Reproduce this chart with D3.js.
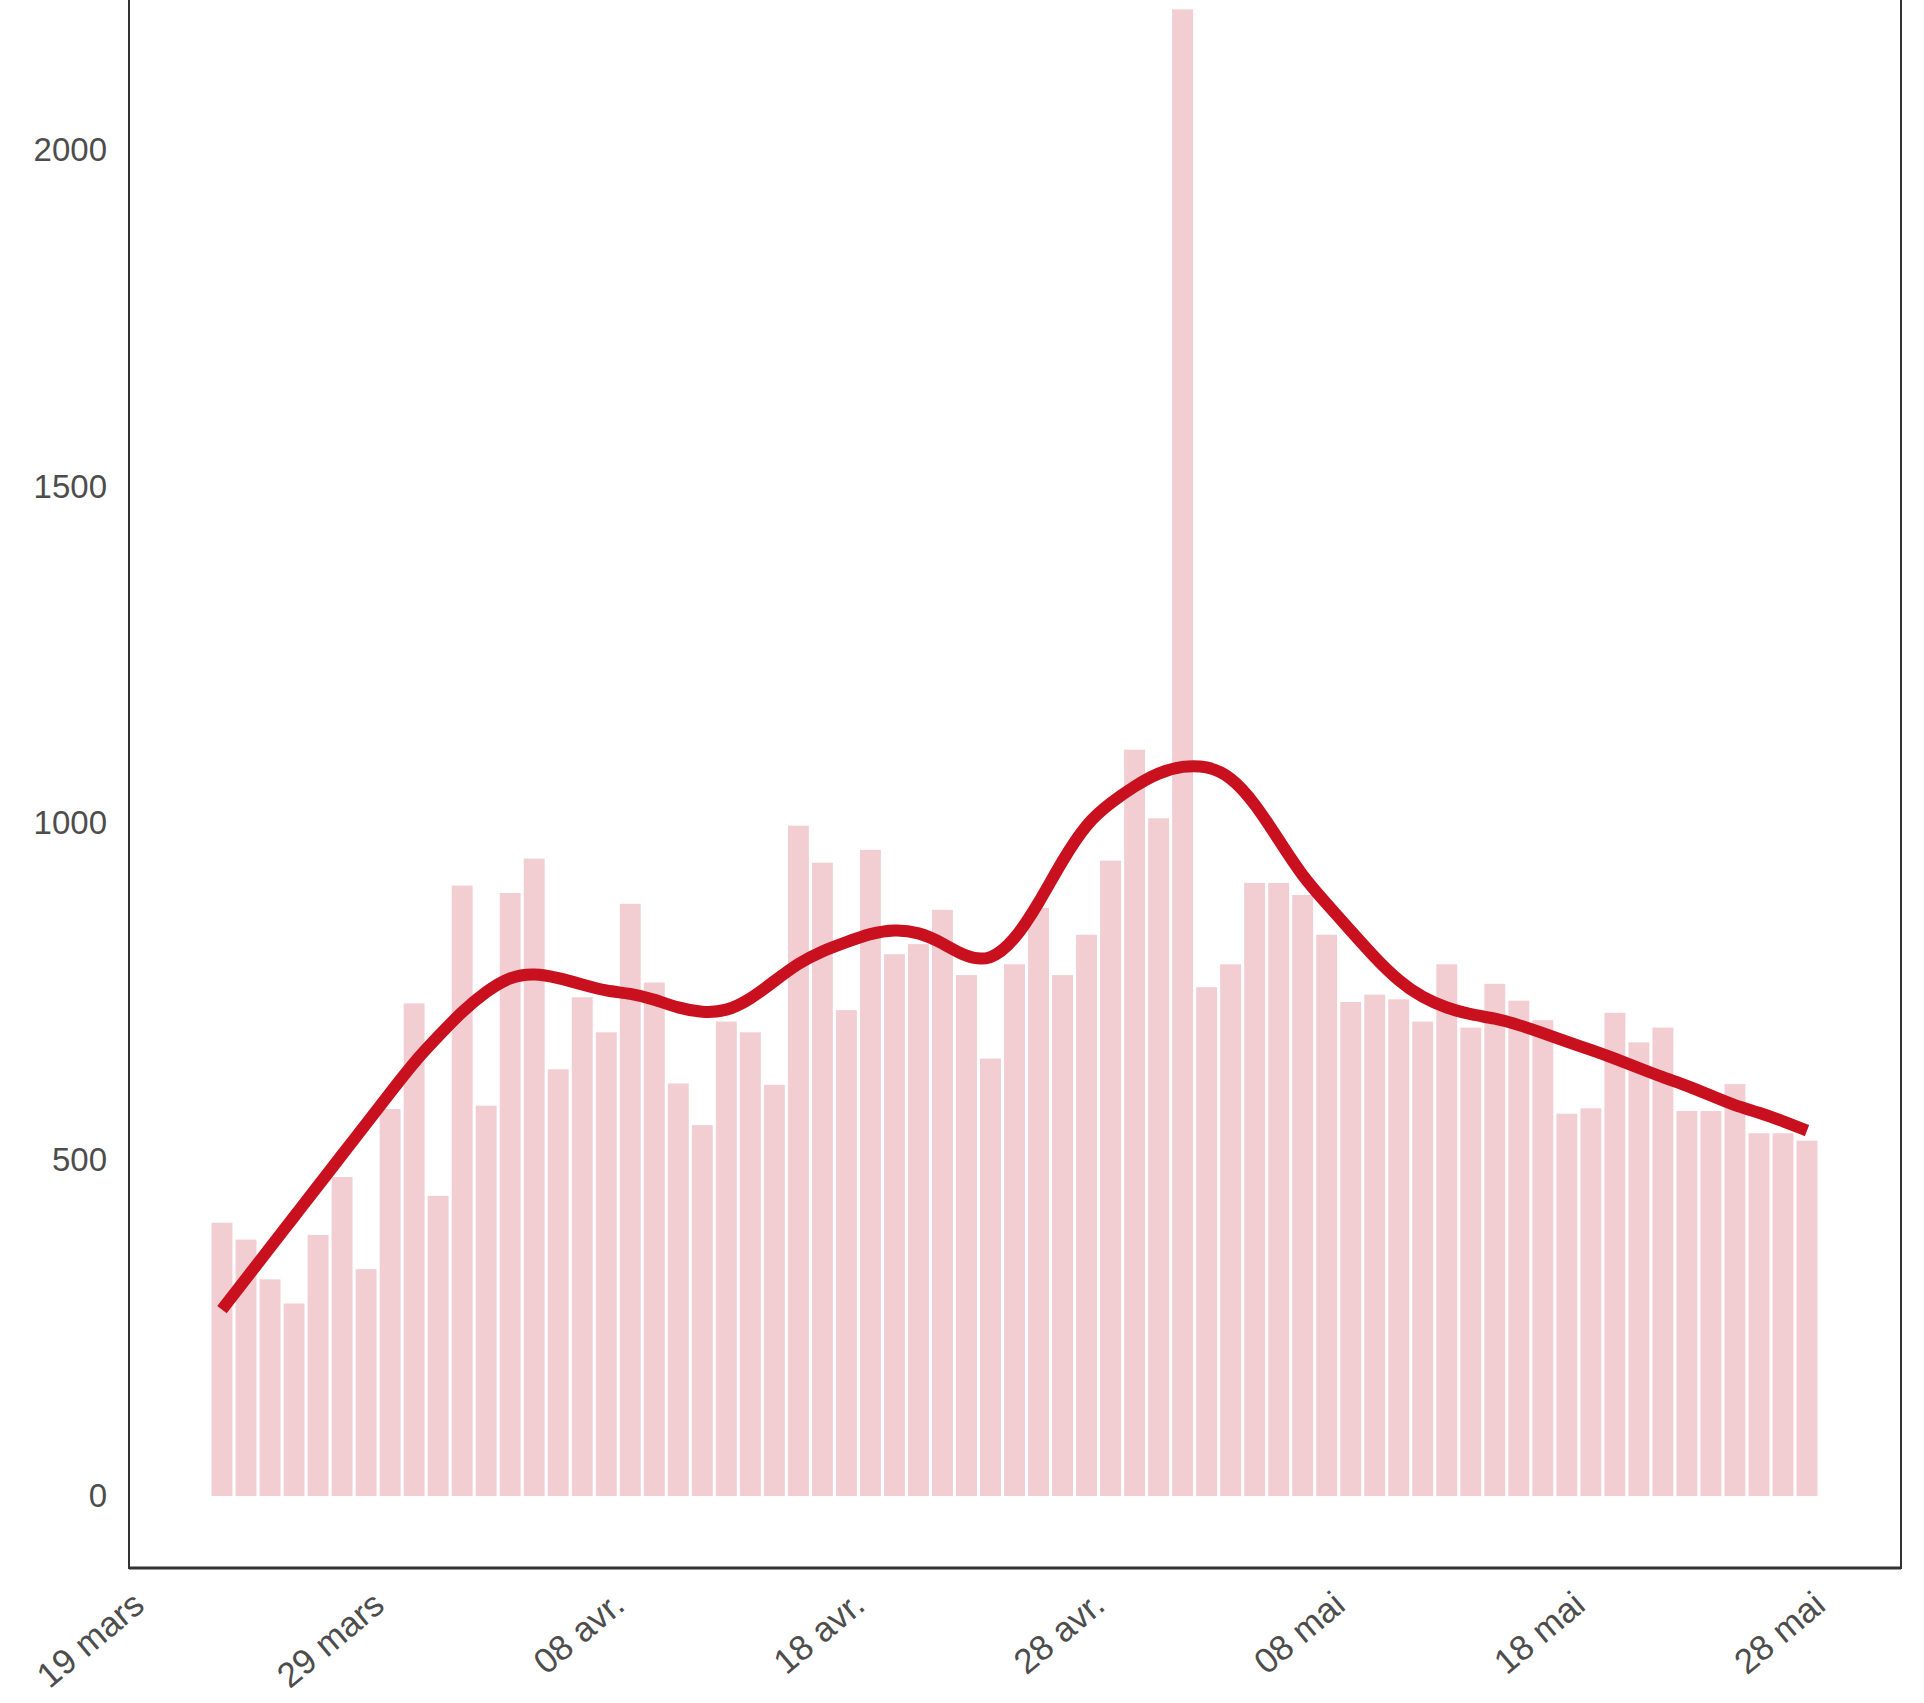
<!DOCTYPE html>
<html><head><meta charset="utf-8">
<script src="https://cdn.jsdelivr.net/npm/d3@7"></script>
<style>body{margin:0;background:#fff}svg{display:block}</style></head>
<body><svg id="c" width="1924" height="1703"></svg>
<script>
const startDate = "2020-03-22";
const values = [406,381,322,286,388,474,337,575,732,446,907,580,896,947,634,741,689,880,763,613,551,705,689,611,996,941,722,960,805,820,871,774,650,790,874,774,834,944,1109,1007,2209,756,790,911,911,893,834,734,745,738,705,790,696,761,736,707,568,576,718,674,696,572,572,612,539,539,528];
const trend = [277,323,369,415,461,507,553,599,645,683,720,750,772,777,770,760,750,747,738,725,718,720,738,765,792,810,823,836,842,838,822,800,795,825,880,945,1000,1030,1055,1075,1085,1085,1070,1030,975,920,880,840,800,765,740,725,715,710,700,688,675,663,650,636,622,610,595,580,570,557,543];
const tickLabels = ["19 mars","29 mars","08 avr.","18 avr.","28 avr.","08 mai","18 mai","28 mai"];
const tickDates = ["2020-03-19","2020-03-29","2020-04-08","2020-04-18","2020-04-28","2020-05-08","2020-05-18","2020-05-28"];
const yTicks = [0,500,1000,1500,2000];

const svg = d3.select("#c");
const parse = d3.utcParse("%Y-%m-%d");
const d0 = parse(startDate);
const dates = values.map((v,i)=>d3.utcDay.offset(d0,i));
const x = d3.scaleUtc().domain([dates[0], dates[dates.length-1]]).range([222,1807]);
const y = d3.scaleLinear().domain([0,2000]).range([1496,150]);
const step = x(dates[1]) - x(dates[0]);
const bw = step*0.87;

svg.append("path").attr("d",`M129,-5V1568H1901V-5`).attr("fill","none").attr("stroke","#333").attr("stroke-width",2);
svg.append("line").attr("x1",129).attr("x2",1901).attr("y1",1568).attr("y2",1568).attr("stroke","#333").attr("stroke-width",3);

svg.append("g").selectAll("rect").data(values).join("rect")
  .attr("x",(d,i)=>x(dates[i])-bw/2).attr("width",bw)
  .attr("y",d=>y(d)).attr("height",d=>y(0)-y(d)).attr("fill","#f2cdd2");

svg.append("path").datum(trend)
  .attr("d",d3.line().x((d,i)=>x(dates[i])).y(d=>y(d)).curve(d3.curveBasis))
  .attr("fill","none").attr("stroke","#c8101e").attr("stroke-width",12);

const ya = svg.append("g").attr("transform","translate(129,0)")
  .call(d3.axisLeft(y).tickValues(yTicks).tickFormat(d3.format("d")).tickSize(0).tickPadding(22));
ya.select(".domain").remove();
ya.selectAll("text").attr("font-family","Liberation Sans, Arial").attr("font-size",33).attr("fill","#4d4d4d");

const xa = svg.append("g").attr("transform","translate(0,1568)")
  .call(d3.axisBottom(x).tickValues(tickDates.map(parse)).tickFormat((d,i)=>tickLabels[i]).tickSize(0));
xa.select(".domain").remove();
xa.selectAll("text").attr("font-family","Liberation Sans, Arial").attr("font-size",35).attr("fill","#4d4d4d")
  .attr("text-anchor","end").attr("dy",0).attr("transform","translate(-6,38) rotate(-40)");
</script></body></html>
